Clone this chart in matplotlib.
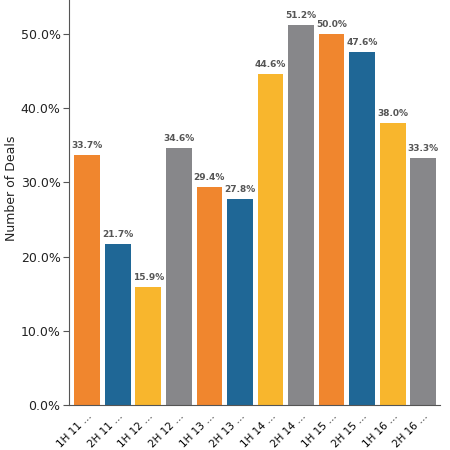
import matplotlib
matplotlib.rcParams.update({'font.size': 9})
from matplotlib import pyplot as plt
import numpy as np

periods = ["1H 11", "2H 11", "1H 12", "2H 12", "1H 13", "2H 13",
           "1H 14", "2H 14", "1H 15", "2H 15", "1H 16", "2H 16"]
values = [33.7, 21.7, 15.9, 34.6, 29.4, 27.8, 44.6, 51.2, 50.0, 47.6, 38.0, 33.3]
palette = ["#F0862E", "#1F6796", "#F8B62D", "#87878A"]

colors = [palette[i % 4] for i in range(len(values))]
x = np.arange(len(values))

fig = plt.figure(figsize=(4.5, 4.5), dpi=100)
ax = fig.add_axes([0.153, 0.1, 0.825, 0.9])

bars = ax.bar(x, values, width=0.84, color=colors)
for xi, v in zip(x, values):
    ax.text(xi, v + 0.7, "%.1f%%" % v, ha='center', va='bottom',
            fontsize=6.5, fontweight='bold', color='#555555')

ax.set_xlim(-0.6, len(values) - 0.45)
ax.set_ylim(0, 54.6)
ax.set_yticks([0, 10, 20, 30, 40, 50])
ax.set_yticklabels(["%.1f%%" % t for t in [0, 10, 20, 30, 40, 50]])
ax.set_xticks(x)
ax.set_xticklabels([p + " \u2026" for p in periods], rotation=45,
                   ha='right', rotation_mode='anchor', fontsize=7.5)
ax.tick_params(axis='x', length=0, pad=4)
ax.tick_params(axis='y', length=4, color='#555555', pad=2, labelcolor='#222222')
for s in ['top', 'right']:
    ax.spines[s].set_visible(False)
for s in ['left', 'bottom']:
    ax.spines[s].set_color('#555555')
fig.text(12 / 450, 1 - 188 / 450, 'Number of Deals', rotation=90,
         ha='center', va='center', fontsize=9, color='#222222')

fig.savefig('out.png')
plt.close(fig)
